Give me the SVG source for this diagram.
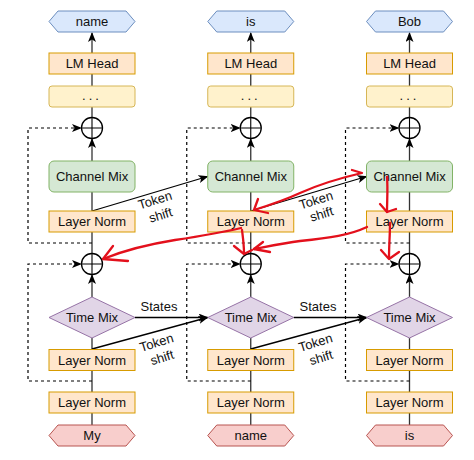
<svg xmlns="http://www.w3.org/2000/svg" width="474" height="460" viewBox="0 0 474 460">
<defs>
<style>
text{font-family:"Liberation Sans",Arial,sans-serif;font-size:13px;fill:#111;text-anchor:middle}
.out{fill:#dae8fc;stroke:#6c8ebf;stroke-width:1}
.inp{fill:#f8cecc;stroke:#b85450;stroke-width:1}
.org{fill:#ffe6cc;stroke:#d79b00;stroke-width:1}
.dots{fill:#fff2cc;stroke:#d6b656;stroke-width:1}
.cm{fill:#d5e8d4;stroke:#82b366;stroke-width:1}
.tm{fill:#e1d5e7;stroke:#9673a6;stroke-width:1}
.plus circle{fill:#fff;stroke:#000;stroke-width:1.3}
.plus path{stroke:#000;stroke-width:1.1;fill:none}
.ln{stroke:#333;stroke-width:1.3;fill:none}
.dash{stroke:#000;stroke-width:1.2;stroke-dasharray:3 3;fill:none}
.red{stroke:#e3101c;stroke-width:2.3;fill:none;stroke-linecap:round;stroke-linejoin:round}
</style>
<marker id="ah" viewBox="0 0 10 8" refX="9" refY="4" markerWidth="10" markerHeight="8" markerUnits="userSpaceOnUse" orient="auto">
<path d="M0,0 L10,4 L0,8 L2.5,4 z" fill="#000"/>
</marker>
<polygon id="hex" points="-43,0 -34,-10.5 34,-10.5 43,0 34,10.5 -34,10.5"/>
</defs>
<rect width="474" height="460" fill="#fff"/>

<g id="connectors">
  <g class="ln">
    <path d="M92,425V413M92,392V371M92,349V338M92,253.5V232M92,211V192M92,117.5V107M92,86V74"/>
    <path d="M92,297V275" marker-end="url(#ah)"/>
    <path d="M92,161V139" marker-end="url(#ah)"/>
    <path d="M92,53V33" marker-end="url(#ah)"/>
    <path d="M250.75,425V413M250.75,392V371M250.75,349V338M250.75,253.5V232M250.75,211V192M250.75,117.5V107M250.75,86V74"/>
    <path d="M250.75,297V275" marker-end="url(#ah)"/>
    <path d="M250.75,161V139" marker-end="url(#ah)"/>
    <path d="M250.75,53V33" marker-end="url(#ah)"/>
    <path d="M409.5,425V413M409.5,392V371M409.5,349V338M409.5,253.5V232M409.5,211V192M409.5,117.5V107M409.5,86V74"/>
    <path d="M409.5,297V275" marker-end="url(#ah)"/>
    <path d="M409.5,161V139" marker-end="url(#ah)"/>
    <path d="M409.5,53V33" marker-end="url(#ah)"/>
  </g>
  <g class="dash">
    <path d="M92,243H28V128H81" marker-end="url(#ah)"/>
    <path d="M92,381H28V264H81" marker-end="url(#ah)"/>
    <path d="M250.75,243H186.75V128H239.75" marker-end="url(#ah)"/>
    <path d="M250.75,381H186.75V264H239.75" marker-end="url(#ah)"/>
    <path d="M409.5,243H345.5V128H398.5" marker-end="url(#ah)"/>
    <path d="M409.5,381H345.5V264H398.5" marker-end="url(#ah)"/>
  </g>
  <g stroke="#000" stroke-width="1.3" fill="none">
    <path d="M135,317.5H207.5" marker-end="url(#ah)"/>
    <path d="M92,349L207.5,317.5" marker-end="url(#ah)"/>
    <path d="M92,211L207.5,176.5" marker-end="url(#ah)"/>
    <path d="M293.75,317.5H366.5" marker-end="url(#ah)"/>
    <path d="M250.75,349L366.5,317.5" marker-end="url(#ah)"/>
    <path d="M250.75,211L366.5,176.5" marker-end="url(#ah)"/>
  </g>
  <text x="159" y="310.5">States</text>
  <text x="318" y="310.5">States</text>
  <text x="156.5" y="347" transform="rotate(-17 156.5 342.5)">Token</text>
  <text x="162" y="362" transform="rotate(-17 162 357.5)">shift</text>
  <text x="315.5" y="347" transform="rotate(-17 315.5 342.5)">Token</text>
  <text x="321" y="362" transform="rotate(-17 321 357.5)">shift</text>
  <text x="155" y="204.5" transform="rotate(-17 155 200)">Token</text>
  <text x="160.5" y="219.5" transform="rotate(-17 160.5 215)">shift</text>
  <text x="316" y="204.5" transform="rotate(-17 316 200)">Token</text>
  <text x="321.5" y="218.5" transform="rotate(-17 321.5 214)">shift</text>
</g>

<g id="out1" transform="translate(92,21.5)"><use href="#hex" class="out"/><text y="4.5">name</text></g>
<g id="lmhead1" transform="translate(92,63.5)"><rect x="-43" y="-10.5" width="86" height="21" class="org"/><text y="4.5">LM Head</text></g>
<g id="dots1" transform="translate(92,96.5)"><rect x="-43" y="-10.5" width="86" height="21" rx="3" class="dots"/><text y="3" letter-spacing="3">...</text></g>
<g id="add1a" class="plus" transform="translate(92,128)"><circle r="10.5"/><path d="M-10.5,0H10.5M0,-10.5V10.5"/></g>
<g id="cmix1" transform="translate(92,176.5)"><rect x="-43" y="-15.5" width="86" height="31" rx="5" class="cm"/><text y="4.5">Channel Mix</text></g>
<g id="ln1a" transform="translate(92,221.5)"><rect x="-43" y="-10.5" width="86" height="21" class="org"/><text y="4.5">Layer Norm</text></g>
<g id="add1b" class="plus" transform="translate(92,264)"><circle r="10.5"/><path d="M-10.5,0H10.5M0,-10.5V10.5"/></g>
<g id="tmix1" transform="translate(92,317.5)"><polygon points="-43,0 0,-20.5 43,0 0,20.5" class="tm"/><text y="4.5">Time Mix</text></g>
<g id="ln1b" transform="translate(92,360)"><rect x="-43" y="-10.5" width="86" height="21" class="org"/><text y="4.5">Layer Norm</text></g>
<g id="ln1c" transform="translate(92,402.5)"><rect x="-43" y="-10.5" width="86" height="21" class="org"/><text y="4.5">Layer Norm</text></g>
<g id="in1" transform="translate(92,435.5)"><use href="#hex" class="inp"/><text y="4.5">My</text></g>

<g id="out2" transform="translate(250.75,21.5)"><use href="#hex" class="out"/><text y="4.5">is</text></g>
<g id="lmhead2" transform="translate(250.75,63.5)"><rect x="-43" y="-10.5" width="86" height="21" class="org"/><text y="4.5">LM Head</text></g>
<g id="dots2" transform="translate(250.75,96.5)"><rect x="-43" y="-10.5" width="86" height="21" rx="3" class="dots"/><text y="3" letter-spacing="3">...</text></g>
<g id="add2a" class="plus" transform="translate(250.75,128)"><circle r="10.5"/><path d="M-10.5,0H10.5M0,-10.5V10.5"/></g>
<g id="cmix2" transform="translate(250.75,176.5)"><rect x="-43" y="-15.5" width="86" height="31" rx="5" class="cm"/><text y="4.5">Channel Mix</text></g>
<g id="ln2a" transform="translate(250.75,221.5)"><rect x="-43" y="-10.5" width="86" height="21" class="org"/><text y="4.5">Layer Norm</text></g>
<g id="add2b" class="plus" transform="translate(250.75,264)"><circle r="10.5"/><path d="M-10.5,0H10.5M0,-10.5V10.5"/></g>
<g id="tmix2" transform="translate(250.75,317.5)"><polygon points="-43,0 0,-20.5 43,0 0,20.5" class="tm"/><text y="4.5">Time Mix</text></g>
<g id="ln2b" transform="translate(250.75,360)"><rect x="-43" y="-10.5" width="86" height="21" class="org"/><text y="4.5">Layer Norm</text></g>
<g id="ln2c" transform="translate(250.75,402.5)"><rect x="-43" y="-10.5" width="86" height="21" class="org"/><text y="4.5">Layer Norm</text></g>
<g id="in2" transform="translate(250.75,435.5)"><use href="#hex" class="inp"/><text y="4.5">name</text></g>

<g id="out3" transform="translate(409.5,21.5)"><use href="#hex" class="out"/><text y="4.5">Bob</text></g>
<g id="lmhead3" transform="translate(409.5,63.5)"><rect x="-43" y="-10.5" width="86" height="21" class="org"/><text y="4.5">LM Head</text></g>
<g id="dots3" transform="translate(409.5,96.5)"><rect x="-43" y="-10.5" width="86" height="21" rx="3" class="dots"/><text y="3" letter-spacing="3">...</text></g>
<g id="add3a" class="plus" transform="translate(409.5,128)"><circle r="10.5"/><path d="M-10.5,0H10.5M0,-10.5V10.5"/></g>
<g id="cmix3" transform="translate(409.5,176.5)"><rect x="-43" y="-15.5" width="86" height="31" rx="5" class="cm"/><text y="4.5">Channel Mix</text></g>
<g id="ln3a" transform="translate(409.5,221.5)"><rect x="-43" y="-10.5" width="86" height="21" class="org"/><text y="4.5">Layer Norm</text></g>
<g id="add3b" class="plus" transform="translate(409.5,264)"><circle r="10.5"/><path d="M-10.5,0H10.5M0,-10.5V10.5"/></g>
<g id="tmix3" transform="translate(409.5,317.5)"><polygon points="-43,0 0,-20.5 43,0 0,20.5" class="tm"/><text y="4.5">Time Mix</text></g>
<g id="ln3b" transform="translate(409.5,360)"><rect x="-43" y="-10.5" width="86" height="21" class="org"/><text y="4.5">Layer Norm</text></g>
<g id="ln3c" transform="translate(409.5,402.5)"><rect x="-43" y="-10.5" width="86" height="21" class="org"/><text y="4.5">Layer Norm</text></g>
<g id="in3" transform="translate(409.5,435.5)"><use href="#hex" class="inp"/><text y="4.5">is</text></g>

<g id="annotations" class="red">
  <path d="M241,228 C220,233 195,237 175,240 C150,244 125,250 103,259"/>
  <path d="M113,246 L103,259 L128,261"/>
  <path d="M352,170 L362,173 C340,178 320,184 300,193 C285,200 270,205 254,210"/>
  <path d="M258,199 L254,210 L268,213"/>
  <path d="M387,177 C388,190 387,200 387,212"/>
  <path d="M380,204 L387,212 L396,209"/>
  <path d="M367,227 C350,235 330,238 300,241 C285,243 270,246 254,249"/>
  <path d="M263,242 L254,249 L270,252"/>
  <path d="M390,223 C390,235 389,245 389,258"/>
  <path d="M381,250 L389,259 L399,252"/>
  <path d="M242,230 C243,238 244,245 244,253"/>
  <path d="M234,246 L244,254 L252,250"/>
</g>
</svg>
